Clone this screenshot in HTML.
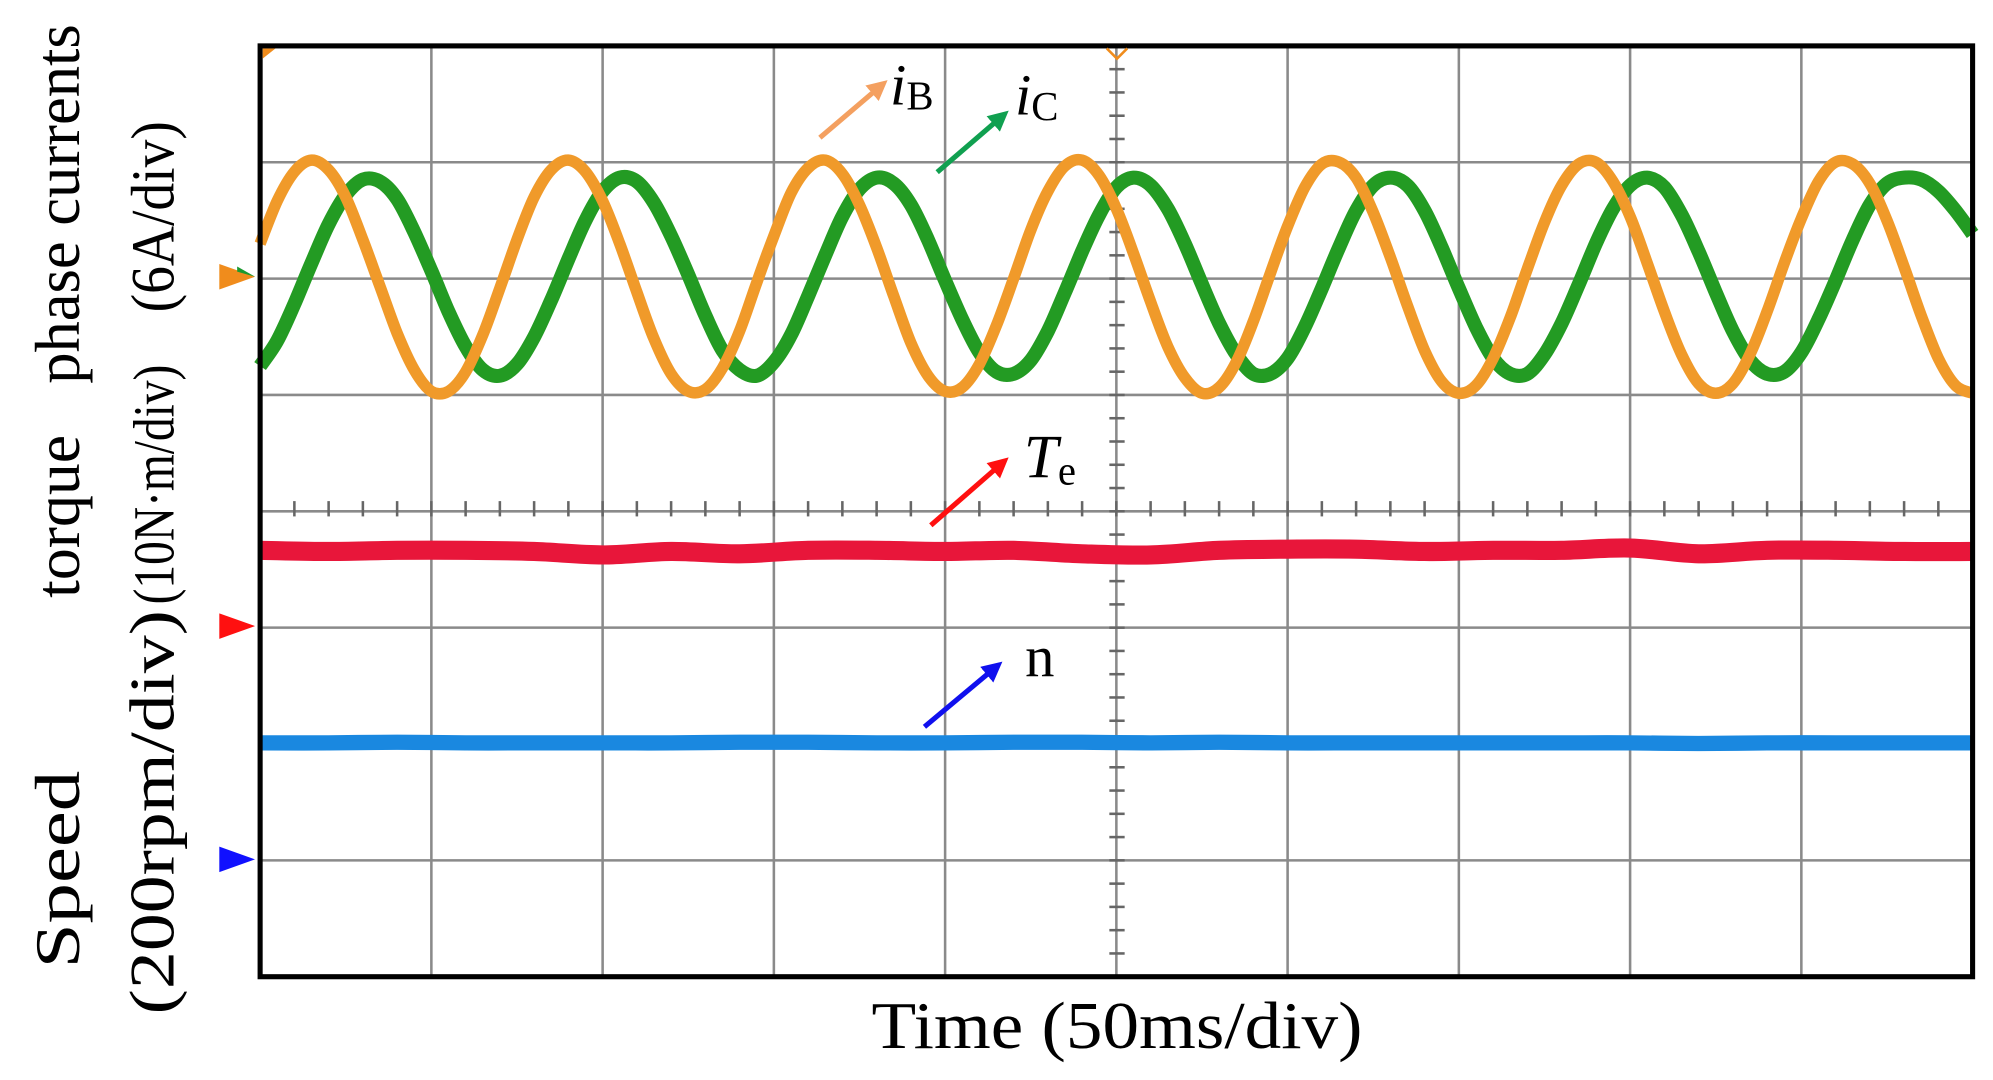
<!DOCTYPE html>
<html><head><meta charset="utf-8"><style>
html,body{margin:0;padding:0;background:#fff;}
svg{display:block;}
text{font-family:"Liberation Serif",serif;fill:#000;}
</style></head><body>
<svg id="chart" width="1993" height="1080" viewBox="0 0 1563 847" preserveAspectRatio="none" xmlns="http://www.w3.org/2000/svg">
<g id="grid"></g>
<g id="series"></g>
<rect x="204" y="36" width="1343" height="730" fill="none" stroke="#000" stroke-width="4"/>
<g font-size="50">
<text transform="translate(62,160) rotate(-90)" text-anchor="middle" textLength="282" lengthAdjust="spacingAndGlyphs">phase currents</text>
<text transform="translate(136,170) rotate(-90)" text-anchor="middle" font-size="48" textLength="150" lengthAdjust="spacingAndGlyphs">(6A/div)</text>
<text transform="translate(62,405) rotate(-90)" text-anchor="middle">torque</text>
<text transform="translate(136,380) rotate(-90)" text-anchor="middle" font-size="46" textLength="188" lengthAdjust="spacingAndGlyphs">(10N·m/div)</text>
<text transform="translate(62,682) rotate(-90)" text-anchor="middle" textLength="155" lengthAdjust="spacingAndGlyphs">Speed</text>
<text transform="translate(136,637) rotate(-90)" text-anchor="middle" textLength="317" lengthAdjust="spacingAndGlyphs">(200rpm/div)</text>
</g>
<text x="876" y="822" font-size="52" text-anchor="middle" textLength="385" lengthAdjust="spacingAndGlyphs">Time (50ms/div)</text>
<g>
<polygon points="172,207 200,217 172,227" fill="#f08c1c"/>
<polygon points="186,209 200,217 186,213" fill="#1a9a30"/>
<polygon points="172,481 200,491 172,501" fill="#ff1010"/>
<polygon points="172,664 200,674 172,684" fill="#1010ff"/>
<polygon points="206,38 216,38 206,46" fill="#f08c1c"/>
<polyline points="868,38 876,46 884,38" fill="none" stroke="#f08c1c" stroke-width="2"/>
</g>
<g>
<defs>
<marker id="ahO" markerWidth="4" markerHeight="4" refX="2" refY="2" orient="auto"><path d="M0,0 L4,2 L0,4z" fill="#f4a060"/></marker>
<marker id="ahG" markerWidth="4" markerHeight="4" refX="2" refY="2" orient="auto"><path d="M0,0 L4,2 L0,4z" fill="#10a050"/></marker>
<marker id="ahR" markerWidth="4" markerHeight="4" refX="2" refY="2" orient="auto"><path d="M0,0 L4,2 L0,4z" fill="#ff1010"/></marker>
<marker id="ahB" markerWidth="4" markerHeight="4" refX="2" refY="2" orient="auto"><path d="M0,0 L4,2 L0,4z" fill="#1010ee"/></marker>
</defs>
<line x1="643" y1="108" x2="690" y2="68" stroke="#f4a060" stroke-width="4" marker-end="url(#ahO)"/>
<text x="698" y="82" font-size="46"><tspan font-style="italic">i</tspan><tspan font-size="32" dy="4">B</tspan></text>
<line x1="735" y1="135" x2="785" y2="92" stroke="#10a050" stroke-width="4" marker-end="url(#ahG)"/>
<text x="796" y="90" font-size="46"><tspan font-style="italic">i</tspan><tspan font-size="32" dy="4">C</tspan></text>
<line x1="730" y1="412" x2="785" y2="364" stroke="#ff1010" stroke-width="4" marker-end="url(#ahR)"/>
<text x="803" y="374" font-size="48"><tspan font-style="italic">T</tspan><tspan font-size="32" dy="6">e</tspan></text>
<line x1="725" y1="570" x2="780" y2="524" stroke="#1010ee" stroke-width="4" marker-end="url(#ahB)"/>
<text x="804" y="530" font-size="46">n</text>
</g>
</svg>
<script>
// time samples (ms), 5 ms step, 0..500
const timeStepMs = 5;
const iB = [1.7,3.9,5.4,6.0,5.5,4.1,1.9,-0.5,-2.9,-4.8,-5.9,-5.9,-4.9,-3.0,-0.6,1.9,4.1,5.5,6.0,5.4,3.9,1.7,-0.8,-3.2,-5.0,-5.9,-5.8,-4.7,-2.8,-0.3,2.1,4.3,5.6,6.0,5.3,3.7,1.5,-1.0,-3.4,-5.1,-5.9,-5.7,-4.5,-2.5,-0.1,2.4,4.4,5.7,6.0,5.2,3.5,1.2,-1.3,-3.6,-5.2,-6.0,-5.7,-4.4,-2.3,0.2,2.6,4.6,5.8,5.9,5.1,3.3,1.0,-1.5,-3.8,-5.4,-6.0,-5.6,-4.2,-2.1,0.4,2.8,4.7,5.8,5.9,4.9,3.1,0.7,-1.8,-4.0,-5.5,-6.0,-5.5,-4.0,-1.8,0.7,3.0,4.9,5.9,5.8,4.8,2.9,0.5,-2.0,-4.2,-5.6,-6.0];
const iC = [-4.6,-3.3,-1.4,0.7,2.7,4.2,5.0,4.9,4.0,2.3,0.3,-1.8,-3.6,-4.8,-5.1,-4.5,-3.1,-1.2,0.9,2.9,4.4,5.1,4.9,3.8,2.1,0.1,-2.0,-3.8,-4.8,-5.1,-4.4,-3.0,-1.0,1.1,3.1,4.5,5.1,4.8,3.7,1.9,-0.2,-2.2,-3.9,-4.9,-5.0,-4.3,-2.8,-0.8,1.3,3.2,4.6,5.1,4.7,3.5,1.7,-0.4,-2.4,-4.0,-5.0,-5.0,-4.2,-2.6,-0.6,1.5,3.4,4.7,5.1,4.7,3.4,1.5,-0.6,-2.6,-4.2,-5.0,-5.0,-4.0,-2.4,-0.4,1.7,3.5,4.7,5.1,4.6,3.2,1.3,-0.8,-2.8,-4.3,-5.0,-4.9,-3.9,-2.2,-0.2,1.9,3.7,4.8,5.1,5.0,4.4,3.4,2.2];
// torque (N·m) and speed (rpm) every 20 ms
const slowStepMs = 20;
const torque = [6.5,6.4,6.5,6.5,6.4,6.1,6.4,6.2,6.5,6.5,6.4,6.5,6.2,6.1,6.5,6.6,6.6,6.4,6.5,6.5,6.7,6.2,6.5,6.5,6.4,6.4];
const speed = [200,200,201,200,200,200,200,201,201,200,200,201,201,200,201,200,200,200,200,200,200,199,200,200,200,200];

const NS = 'http://www.w3.org/2000/svg';
const X0 = 204, X1 = 1547, T_SPAN = 500;
const xScale = t => X0 + (t / T_SPAN) * (X1 - X0);
const DIV = 91.4;
const yCurrent = a => 217 - a / 6 * DIV;
const yTorque = v => 491 - v / 10 * DIV;
const ySpeed = v => 674 - v / 200 * DIV;

function mk(tag, attrs, parent) {
  const e = document.createElementNS(NS, tag);
  for (const k in attrs) e.setAttribute(k, attrs[k]);
  parent.appendChild(e);
  return e;
}
const grid = document.getElementById('grid');
for (let i = 1; i < 10; i++) {
  const x = X0 + i * (X1 - X0) / 10;
  const l = mk('line', {x1: x, x2: x, y1: 36, y2: 766, stroke: '#8a8a8a', 'stroke-width': 2}, grid);
  
  
}
for (let j = 1; j < 8; j++) {
  const y = 36 + j * 730 / 8;
  const l = mk('line', {x1: X0, x2: X1, y1: y, y2: y, stroke: '#8a8a8a', 'stroke-width': 2}, grid);
  
  
}
for (let k = 1; k < 40; k++) {
  const y = 36 + k * 730 / 40;
  const t = mk('line', {x1: 870, x2: 882, y1: y, y2: y, stroke: '#666', 'stroke-width': 2}, grid);
  
  
}
for (let k = 1; k < 50; k++) {
  const x = X0 + k * (X1 - X0) / 50;
  const t = mk('line', {x1: x, x2: x, y1: 393, y2: 405, stroke: '#666', 'stroke-width': 2}, grid);
  
  
}
function smoothPath(pts) {
  let d = 'M' + pts[0][0] + ',' + pts[0][1];
  for (let i = 0; i < pts.length - 1; i++) {
    const p0 = pts[Math.max(0, i - 1)], p1 = pts[i], p2 = pts[i + 1], p3 = pts[Math.min(pts.length - 1, i + 2)];
    const c1x = p1[0] + (p2[0] - p0[0]) / 6, c1y = p1[1] + (p2[1] - p0[1]) / 6;
    const c2x = p2[0] - (p3[0] - p1[0]) / 6, c2y = p2[1] - (p3[1] - p1[1]) / 6;
    d += ' C' + c1x.toFixed(1) + ',' + c1y.toFixed(1) + ' ' + c2x.toFixed(1) + ',' + c2y.toFixed(1) + ' ' + p2[0].toFixed(1) + ',' + p2[1].toFixed(1);
  }
  return d;
}
const sg = document.getElementById('series');
function drawSeries(vals, step, yf, color, w, name) {
  const pts = vals.map((v, i) => [xScale(i * step), yf(v)]);
  const p = mk('path', {d: smoothPath(pts), fill: 'none', stroke: color, 'stroke-width': w, 'stroke-linejoin': 'round'}, sg);
  
  
}
drawSeries(iC, timeStepMs, yCurrent, '#239b23', 11, 'ic-trace');
drawSeries(iB, timeStepMs, yCurrent, '#f09a2a', 9, 'ib-trace');
drawSeries(torque, slowStepMs, yTorque, '#e8163a', 15, 'torque-trace');
drawSeries(speed, slowStepMs, ySpeed, '#1a88e0', 12, 'speed-trace');
</script>
</body></html>
